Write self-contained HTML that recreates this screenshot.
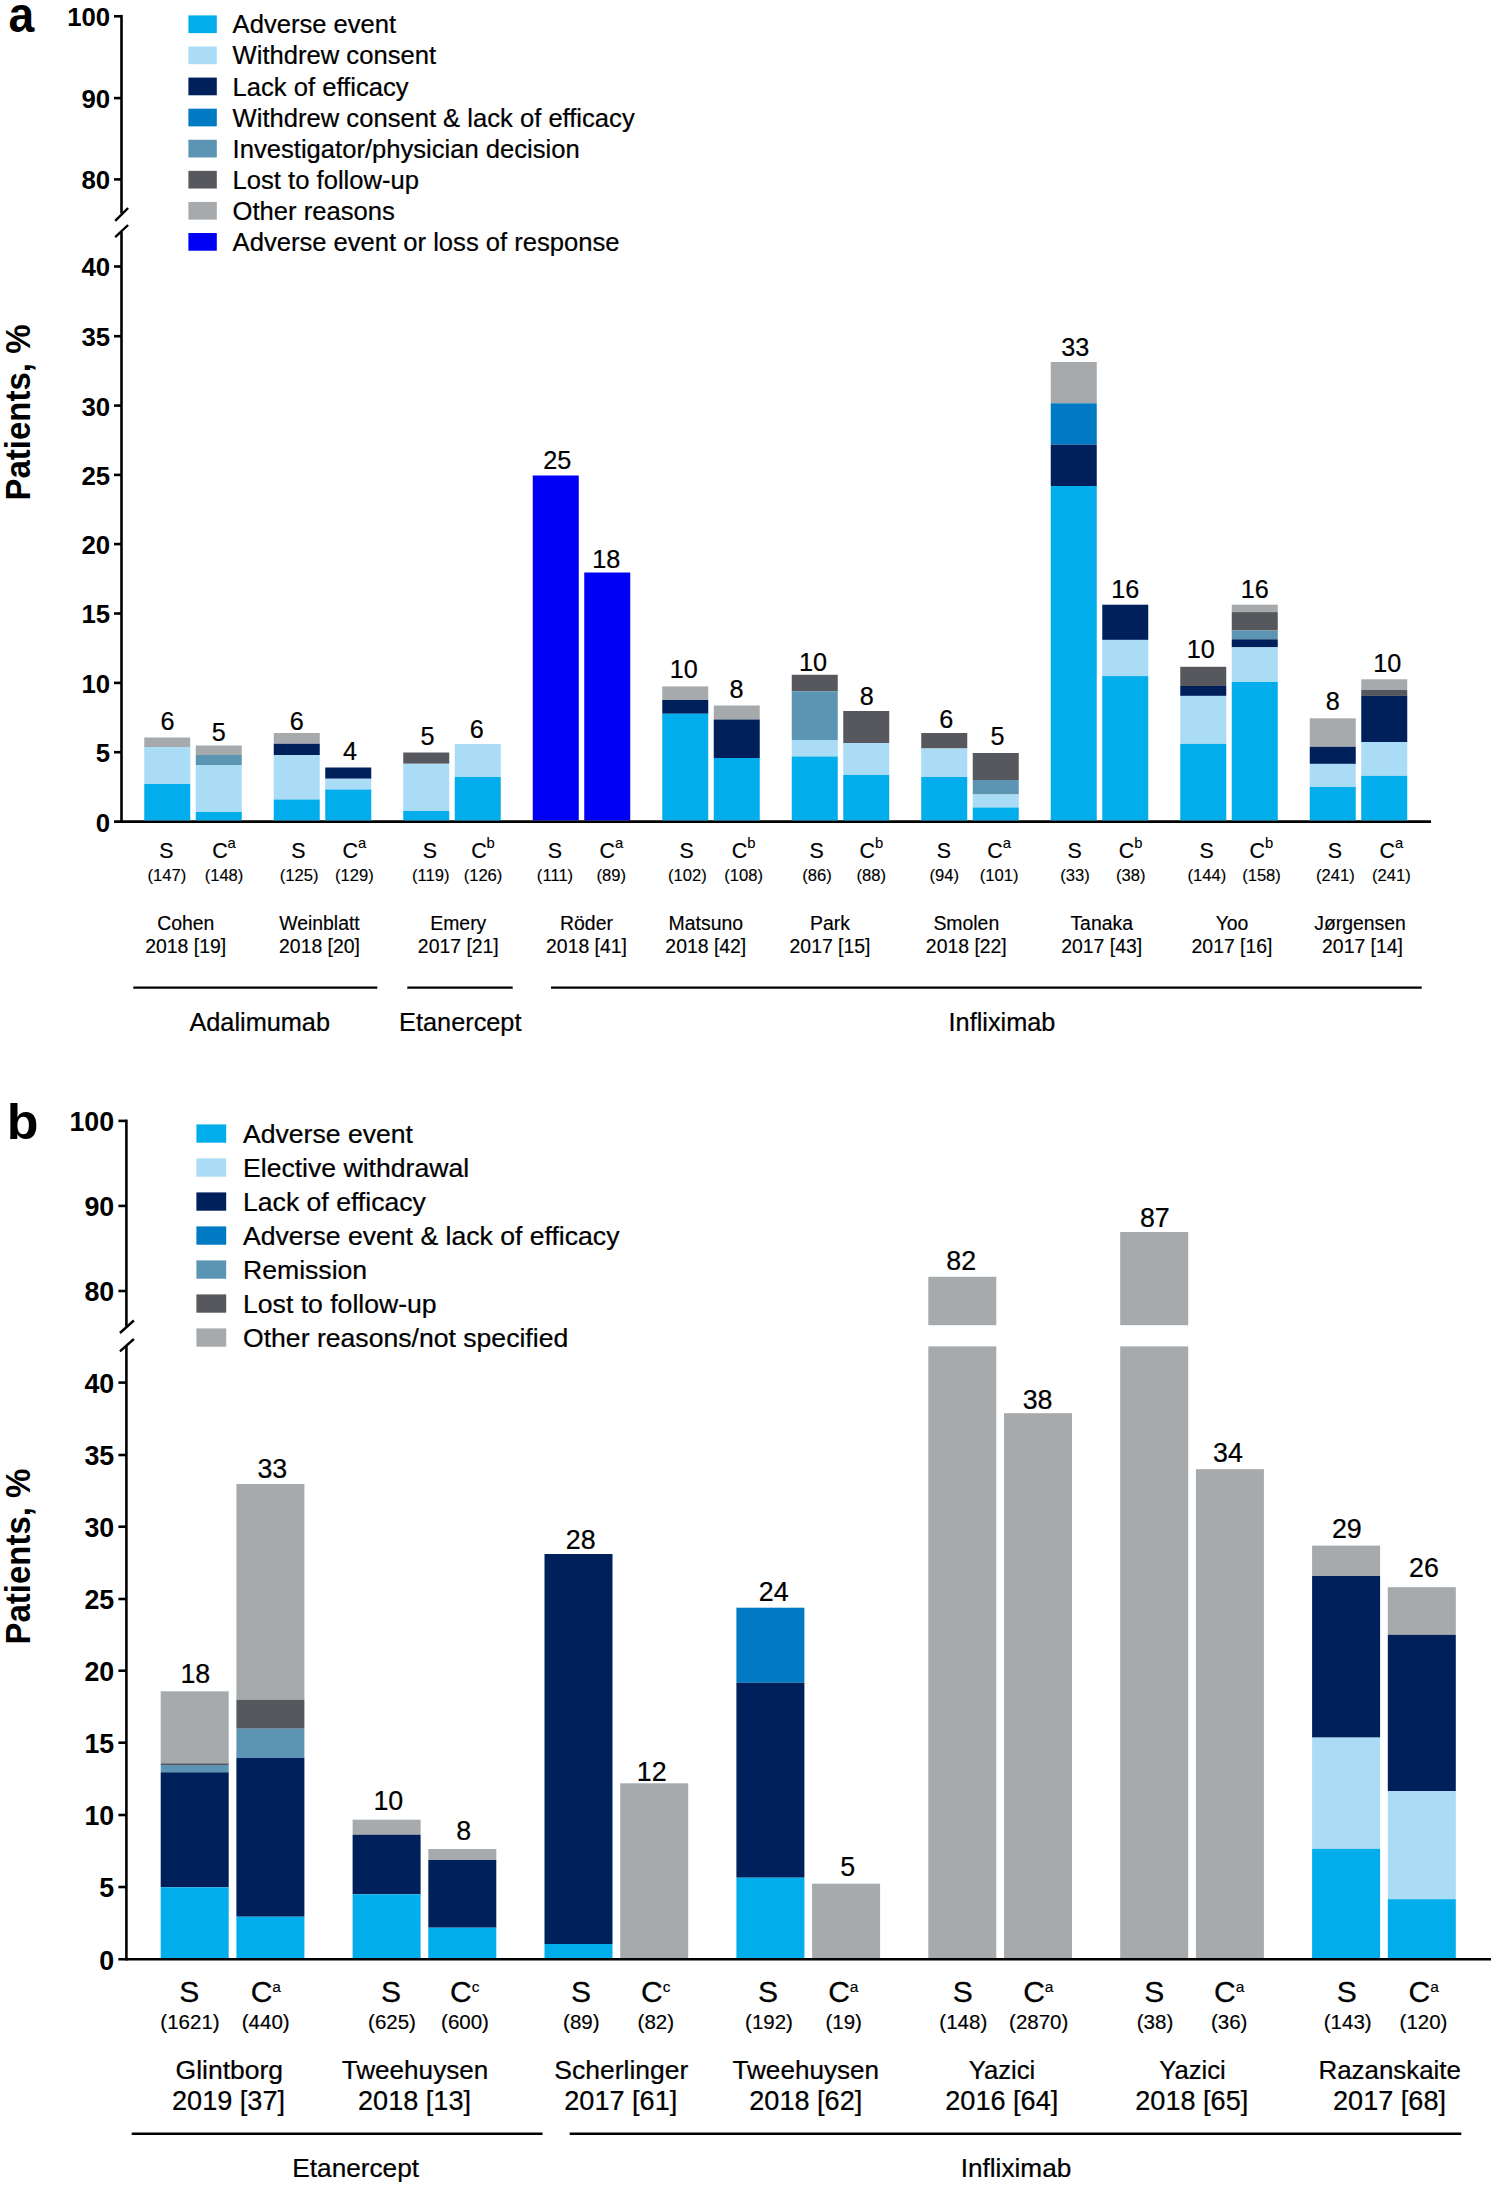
<!DOCTYPE html>
<html lang="en">
<head>
<meta charset="utf-8">
<title>Discontinuation reasons in switching studies</title>
<style>
html,body{margin:0;padding:0;background:#fff;}
body{width:1500px;height:2187px;overflow:hidden;}
svg{display:block;font-family:"Liberation Sans",Arial,Helvetica,sans-serif;fill:#000;}
svg text{fill:#000;}
</style>
</head>
<body>
<svg width="1500" height="2187" viewBox="0 0 1500 2187">
<rect x="0" y="0" width="1500" height="2187" fill="#fff"/>
<text transform="translate(8.4,32.2) scale(0.935,1)" font-size="49.5" font-weight="bold">a</text>
<line x1="121.5" y1="14.9" x2="121.5" y2="213.5" stroke="#000" stroke-width="2.6" stroke-linecap="butt"/>
<line x1="121.5" y1="231.4" x2="121.5" y2="822.9" stroke="#000" stroke-width="2.6" stroke-linecap="butt"/>
<line x1="115.2" y1="220.9" x2="128.1" y2="208" stroke="#000" stroke-width="2.4" stroke-linecap="butt"/>
<line x1="115.2" y1="237.2" x2="128.1" y2="225" stroke="#000" stroke-width="2.4" stroke-linecap="butt"/>
<line x1="114" y1="821.6" x2="1431" y2="821.6" stroke="#000" stroke-width="2.6" stroke-linecap="butt"/>
<line x1="114" y1="16.3" x2="121.5" y2="16.3" stroke="#000" stroke-width="2.6" stroke-linecap="butt"/>
<text x="110.2" y="26.2" font-size="25.8" text-anchor="end" font-weight="bold">100</text>
<line x1="114" y1="98.1" x2="121.5" y2="98.1" stroke="#000" stroke-width="2.6" stroke-linecap="butt"/>
<text x="110.2" y="108" font-size="25.8" text-anchor="end" font-weight="bold">90</text>
<line x1="114" y1="179.4" x2="121.5" y2="179.4" stroke="#000" stroke-width="2.6" stroke-linecap="butt"/>
<text x="110.2" y="189.3" font-size="25.8" text-anchor="end" font-weight="bold">80</text>
<line x1="114" y1="266.5" x2="121.5" y2="266.5" stroke="#000" stroke-width="2.6" stroke-linecap="butt"/>
<text x="110.2" y="276.4" font-size="25.8" text-anchor="end" font-weight="bold">40</text>
<line x1="114" y1="336.2" x2="121.5" y2="336.2" stroke="#000" stroke-width="2.6" stroke-linecap="butt"/>
<text x="110.2" y="346.1" font-size="25.8" text-anchor="end" font-weight="bold">35</text>
<line x1="114" y1="405.6" x2="121.5" y2="405.6" stroke="#000" stroke-width="2.6" stroke-linecap="butt"/>
<text x="110.2" y="415.5" font-size="25.8" text-anchor="end" font-weight="bold">30</text>
<line x1="114" y1="474.9" x2="121.5" y2="474.9" stroke="#000" stroke-width="2.6" stroke-linecap="butt"/>
<text x="110.2" y="484.8" font-size="25.8" text-anchor="end" font-weight="bold">25</text>
<line x1="114" y1="544.1" x2="121.5" y2="544.1" stroke="#000" stroke-width="2.6" stroke-linecap="butt"/>
<text x="110.2" y="554" font-size="25.8" text-anchor="end" font-weight="bold">20</text>
<line x1="114" y1="613.5" x2="121.5" y2="613.5" stroke="#000" stroke-width="2.6" stroke-linecap="butt"/>
<text x="110.2" y="623.4" font-size="25.8" text-anchor="end" font-weight="bold">15</text>
<line x1="114" y1="682.9" x2="121.5" y2="682.9" stroke="#000" stroke-width="2.6" stroke-linecap="butt"/>
<text x="110.2" y="692.8" font-size="25.8" text-anchor="end" font-weight="bold">10</text>
<line x1="114" y1="752.2" x2="121.5" y2="752.2" stroke="#000" stroke-width="2.6" stroke-linecap="butt"/>
<text x="110.2" y="762.1" font-size="25.8" text-anchor="end" font-weight="bold">5</text>
<text x="110.2" y="831.5" font-size="25.8" text-anchor="end" font-weight="bold">0</text>
<text transform="translate(30.2,412.5) rotate(-90) scale(1,1.08)" font-size="33" font-weight="bold" text-anchor="middle">Patients, %</text>
<rect x="188.4" y="15.4" width="28.4" height="17.7" fill="#02ADEC"/>
<text x="232.6" y="33.4" font-size="25.6" text-anchor="start" stroke="#000" stroke-width="0.23">Adverse event</text>
<rect x="188.4" y="46.49" width="28.4" height="17.7" fill="#AADCF6"/>
<text x="232.6" y="64.49" font-size="25.6" text-anchor="start" stroke="#000" stroke-width="0.23">Withdrew consent</text>
<rect x="188.4" y="77.58" width="28.4" height="17.7" fill="#00205C"/>
<text x="232.6" y="95.58" font-size="25.6" text-anchor="start" stroke="#000" stroke-width="0.23">Lack of efficacy</text>
<rect x="188.4" y="108.67" width="28.4" height="17.7" fill="#007AC2"/>
<text x="232.6" y="126.67" font-size="25.6" text-anchor="start" stroke="#000" stroke-width="0.23">Withdrew consent &amp; lack of efficacy</text>
<rect x="188.4" y="139.76" width="28.4" height="17.7" fill="#5C94B4"/>
<text x="232.6" y="157.76" font-size="25.6" text-anchor="start" stroke="#000" stroke-width="0.23">Investigator/physician decision</text>
<rect x="188.4" y="170.85" width="28.4" height="17.7" fill="#57585D"/>
<text x="232.6" y="188.85" font-size="25.6" text-anchor="start" stroke="#000" stroke-width="0.23">Lost to follow-up</text>
<rect x="188.4" y="201.94" width="28.4" height="17.7" fill="#A6AAAD"/>
<text x="232.6" y="219.94" font-size="25.6" text-anchor="start" stroke="#000" stroke-width="0.23">Other reasons</text>
<rect x="188.4" y="233.03" width="28.4" height="17.7" fill="#0000F6"/>
<text x="232.6" y="251.03" font-size="25.6" text-anchor="start" stroke="#000" stroke-width="0.23">Adverse event or loss of response</text>
<rect x="144.25" y="737.5" width="46" height="9.5" fill="#A6AAAD"/>
<rect x="144.25" y="747" width="46" height="37" fill="#AADCF6"/>
<rect x="144.25" y="784" width="46" height="36.4" fill="#02ADEC"/>
<rect x="195.75" y="745.5" width="46" height="9.5" fill="#A6AAAD"/>
<rect x="195.75" y="755" width="46" height="10" fill="#5C94B4"/>
<rect x="195.75" y="765" width="46" height="47" fill="#AADCF6"/>
<rect x="195.75" y="812" width="46" height="8.4" fill="#02ADEC"/>
<rect x="273.75" y="733" width="46" height="10.75" fill="#A6AAAD"/>
<rect x="273.75" y="743.75" width="46" height="11.25" fill="#00205C"/>
<rect x="273.75" y="755" width="46" height="44.5" fill="#AADCF6"/>
<rect x="273.75" y="799.5" width="46" height="20.9" fill="#02ADEC"/>
<rect x="325.25" y="767.5" width="46" height="11.25" fill="#00205C"/>
<rect x="325.25" y="778.75" width="46" height="10.75" fill="#AADCF6"/>
<rect x="325.25" y="789.5" width="46" height="30.9" fill="#02ADEC"/>
<rect x="403.25" y="752.5" width="46" height="11.25" fill="#57585D"/>
<rect x="403.25" y="763.75" width="46" height="47.25" fill="#AADCF6"/>
<rect x="403.25" y="811" width="46" height="9.4" fill="#02ADEC"/>
<rect x="454.75" y="744" width="46" height="33" fill="#AADCF6"/>
<rect x="454.75" y="777" width="46" height="43.4" fill="#02ADEC"/>
<rect x="532.75" y="475.5" width="46" height="344.9" fill="#0000F6"/>
<rect x="584.25" y="572.5" width="46" height="247.9" fill="#0000F6"/>
<rect x="662.25" y="686.4" width="46" height="13.6" fill="#A6AAAD"/>
<rect x="662.25" y="700" width="46" height="13.75" fill="#00205C"/>
<rect x="662.25" y="713.75" width="46" height="106.65" fill="#02ADEC"/>
<rect x="713.75" y="705.5" width="46" height="14" fill="#A6AAAD"/>
<rect x="713.75" y="719.5" width="46" height="38.5" fill="#00205C"/>
<rect x="713.75" y="758" width="46" height="62.4" fill="#02ADEC"/>
<rect x="791.75" y="674.75" width="46" height="16.5" fill="#57585D"/>
<rect x="791.75" y="691.25" width="46" height="48.75" fill="#5C94B4"/>
<rect x="791.75" y="740" width="46" height="16.5" fill="#AADCF6"/>
<rect x="791.75" y="756.5" width="46" height="63.9" fill="#02ADEC"/>
<rect x="843.25" y="711" width="46" height="32" fill="#57585D"/>
<rect x="843.25" y="743" width="46" height="32" fill="#AADCF6"/>
<rect x="843.25" y="775" width="46" height="45.4" fill="#02ADEC"/>
<rect x="921.25" y="733" width="46" height="15.5" fill="#57585D"/>
<rect x="921.25" y="748.5" width="46" height="28.5" fill="#AADCF6"/>
<rect x="921.25" y="777" width="46" height="43.4" fill="#02ADEC"/>
<rect x="972.75" y="753" width="46" height="27" fill="#57585D"/>
<rect x="972.75" y="780" width="46" height="14.5" fill="#5C94B4"/>
<rect x="972.75" y="794.5" width="46" height="13" fill="#AADCF6"/>
<rect x="972.75" y="807.5" width="46" height="12.9" fill="#02ADEC"/>
<rect x="1050.75" y="362" width="46" height="41.3" fill="#A6AAAD"/>
<rect x="1050.75" y="403.3" width="46" height="41.4" fill="#007AC2"/>
<rect x="1050.75" y="444.7" width="46" height="41.3" fill="#00205C"/>
<rect x="1050.75" y="486" width="46" height="334.4" fill="#02ADEC"/>
<rect x="1102.25" y="604.7" width="46" height="35.2" fill="#00205C"/>
<rect x="1102.25" y="639.9" width="46" height="36.2" fill="#AADCF6"/>
<rect x="1102.25" y="676.1" width="46" height="144.3" fill="#02ADEC"/>
<rect x="1180.25" y="666.8" width="46" height="19.2" fill="#57585D"/>
<rect x="1180.25" y="686" width="46" height="9.9" fill="#00205C"/>
<rect x="1180.25" y="695.9" width="46" height="48" fill="#AADCF6"/>
<rect x="1180.25" y="743.9" width="46" height="76.5" fill="#02ADEC"/>
<rect x="1231.75" y="604.7" width="46" height="7.4" fill="#A6AAAD"/>
<rect x="1231.75" y="612.1" width="46" height="18.4" fill="#57585D"/>
<rect x="1231.75" y="630.5" width="46" height="8.8" fill="#5C94B4"/>
<rect x="1231.75" y="639.3" width="46" height="8" fill="#00205C"/>
<rect x="1231.75" y="647.3" width="46" height="34.7" fill="#AADCF6"/>
<rect x="1231.75" y="682" width="46" height="138.4" fill="#02ADEC"/>
<rect x="1309.75" y="718.3" width="46" height="28.5" fill="#A6AAAD"/>
<rect x="1309.75" y="746.8" width="46" height="17.1" fill="#00205C"/>
<rect x="1309.75" y="763.9" width="46" height="23.1" fill="#AADCF6"/>
<rect x="1309.75" y="787" width="46" height="33.4" fill="#02ADEC"/>
<rect x="1361.25" y="679.3" width="46" height="10.7" fill="#A6AAAD"/>
<rect x="1361.25" y="690" width="46" height="5.9" fill="#57585D"/>
<rect x="1361.25" y="695.9" width="46" height="46.1" fill="#00205C"/>
<rect x="1361.25" y="742" width="46" height="33.9" fill="#AADCF6"/>
<rect x="1361.25" y="775.9" width="46" height="44.5" fill="#02ADEC"/>
<text x="167.5" y="730" font-size="25.2" text-anchor="middle" stroke="#000" stroke-width="0.23">6</text>
<text x="218.75" y="741.25" font-size="25.2" text-anchor="middle" stroke="#000" stroke-width="0.23">5</text>
<text x="296.75" y="730" font-size="25.2" text-anchor="middle" stroke="#000" stroke-width="0.23">6</text>
<text x="350" y="759.5" font-size="25.2" text-anchor="middle" stroke="#000" stroke-width="0.23">4</text>
<text x="427.5" y="745" font-size="25.2" text-anchor="middle" stroke="#000" stroke-width="0.23">5</text>
<text x="476.75" y="737.5" font-size="25.2" text-anchor="middle" stroke="#000" stroke-width="0.23">6</text>
<text x="557.3" y="468.5" font-size="25.2" text-anchor="middle" stroke="#000" stroke-width="0.23">25</text>
<text x="606.3" y="568.3" font-size="25.2" text-anchor="middle" stroke="#000" stroke-width="0.23">18</text>
<text x="683.8" y="678.4" font-size="25.2" text-anchor="middle" stroke="#000" stroke-width="0.23">10</text>
<text x="736.5" y="698" font-size="25.2" text-anchor="middle" stroke="#000" stroke-width="0.23">8</text>
<text x="813" y="670.5" font-size="25.2" text-anchor="middle" stroke="#000" stroke-width="0.23">10</text>
<text x="866.75" y="704.5" font-size="25.2" text-anchor="middle" stroke="#000" stroke-width="0.23">8</text>
<text x="946.25" y="727.5" font-size="25.2" text-anchor="middle" stroke="#000" stroke-width="0.23">6</text>
<text x="997.5" y="745" font-size="25.2" text-anchor="middle" stroke="#000" stroke-width="0.23">5</text>
<text x="1075.3" y="356.1" font-size="25.2" text-anchor="middle" stroke="#000" stroke-width="0.23">33</text>
<text x="1125.2" y="597.5" font-size="25.2" text-anchor="middle" stroke="#000" stroke-width="0.23">16</text>
<text x="1200.7" y="657.5" font-size="25.2" text-anchor="middle" stroke="#000" stroke-width="0.23">10</text>
<text x="1254.8" y="597.5" font-size="25.2" text-anchor="middle" stroke="#000" stroke-width="0.23">16</text>
<text x="1332.7" y="710" font-size="25.2" text-anchor="middle" stroke="#000" stroke-width="0.23">8</text>
<text x="1387.3" y="672.1" font-size="25.2" text-anchor="middle" stroke="#000" stroke-width="0.23">10</text>
<text x="166.3" y="857.6" font-size="21.4" text-anchor="middle" stroke="#000" stroke-width="0.19">S</text>
<text x="166.8" y="881.3" font-size="16.6" text-anchor="middle" stroke="#000" stroke-width="0.15">(147)</text>
<text x="224" y="857.6" font-size="21.4" text-anchor="middle" stroke="#000" stroke-width="0.19">C<tspan font-size="14.8" dy="-10" stroke-width="0.13">a</tspan></text>
<text x="224" y="881.3" font-size="16.6" text-anchor="middle" stroke="#000" stroke-width="0.15">(148)</text>
<text x="298.5" y="857.6" font-size="21.4" text-anchor="middle" stroke="#000" stroke-width="0.19">S</text>
<text x="299.2" y="881.3" font-size="16.6" text-anchor="middle" stroke="#000" stroke-width="0.15">(125)</text>
<text x="354.3" y="857.6" font-size="21.4" text-anchor="middle" stroke="#000" stroke-width="0.19">C<tspan font-size="14.8" dy="-10" stroke-width="0.13">a</tspan></text>
<text x="354.3" y="881.3" font-size="16.6" text-anchor="middle" stroke="#000" stroke-width="0.15">(129)</text>
<text x="430" y="857.6" font-size="21.4" text-anchor="middle" stroke="#000" stroke-width="0.19">S</text>
<text x="430.7" y="881.3" font-size="16.6" text-anchor="middle" stroke="#000" stroke-width="0.15">(119)</text>
<text x="483" y="857.6" font-size="21.4" text-anchor="middle" stroke="#000" stroke-width="0.19">C<tspan font-size="14.8" dy="-10" stroke-width="0.13">b</tspan></text>
<text x="483" y="881.3" font-size="16.6" text-anchor="middle" stroke="#000" stroke-width="0.15">(126)</text>
<text x="555" y="857.6" font-size="21.4" text-anchor="middle" stroke="#000" stroke-width="0.19">S</text>
<text x="555" y="881.3" font-size="16.6" text-anchor="middle" stroke="#000" stroke-width="0.15">(111)</text>
<text x="611.3" y="857.6" font-size="21.4" text-anchor="middle" stroke="#000" stroke-width="0.19">C<tspan font-size="14.8" dy="-10" stroke-width="0.13">a</tspan></text>
<text x="611.3" y="881.3" font-size="16.6" text-anchor="middle" stroke="#000" stroke-width="0.15">(89)</text>
<text x="686.7" y="857.6" font-size="21.4" text-anchor="middle" stroke="#000" stroke-width="0.19">S</text>
<text x="687.3" y="881.3" font-size="16.6" text-anchor="middle" stroke="#000" stroke-width="0.15">(102)</text>
<text x="743.7" y="857.6" font-size="21.4" text-anchor="middle" stroke="#000" stroke-width="0.19">C<tspan font-size="14.8" dy="-10" stroke-width="0.13">b</tspan></text>
<text x="743.7" y="881.3" font-size="16.6" text-anchor="middle" stroke="#000" stroke-width="0.15">(108)</text>
<text x="816.7" y="857.6" font-size="21.4" text-anchor="middle" stroke="#000" stroke-width="0.19">S</text>
<text x="817" y="881.3" font-size="16.6" text-anchor="middle" stroke="#000" stroke-width="0.15">(86)</text>
<text x="871.3" y="857.6" font-size="21.4" text-anchor="middle" stroke="#000" stroke-width="0.19">C<tspan font-size="14.8" dy="-10" stroke-width="0.13">b</tspan></text>
<text x="871.3" y="881.3" font-size="16.6" text-anchor="middle" stroke="#000" stroke-width="0.15">(88)</text>
<text x="944" y="857.6" font-size="21.4" text-anchor="middle" stroke="#000" stroke-width="0.19">S</text>
<text x="944.3" y="881.3" font-size="16.6" text-anchor="middle" stroke="#000" stroke-width="0.15">(94)</text>
<text x="999.2" y="857.6" font-size="21.4" text-anchor="middle" stroke="#000" stroke-width="0.19">C<tspan font-size="14.8" dy="-10" stroke-width="0.13">a</tspan></text>
<text x="999.2" y="881.3" font-size="16.6" text-anchor="middle" stroke="#000" stroke-width="0.15">(101)</text>
<text x="1074.7" y="857.6" font-size="21.4" text-anchor="middle" stroke="#000" stroke-width="0.19">S</text>
<text x="1075" y="881.3" font-size="16.6" text-anchor="middle" stroke="#000" stroke-width="0.15">(33)</text>
<text x="1130.6" y="857.6" font-size="21.4" text-anchor="middle" stroke="#000" stroke-width="0.19">C<tspan font-size="14.8" dy="-10" stroke-width="0.13">b</tspan></text>
<text x="1130.8" y="881.3" font-size="16.6" text-anchor="middle" stroke="#000" stroke-width="0.15">(38)</text>
<text x="1206.7" y="857.6" font-size="21.4" text-anchor="middle" stroke="#000" stroke-width="0.19">S</text>
<text x="1206.8" y="881.3" font-size="16.6" text-anchor="middle" stroke="#000" stroke-width="0.15">(144)</text>
<text x="1261.3" y="857.6" font-size="21.4" text-anchor="middle" stroke="#000" stroke-width="0.19">C<tspan font-size="14.8" dy="-10" stroke-width="0.13">b</tspan></text>
<text x="1261.5" y="881.3" font-size="16.6" text-anchor="middle" stroke="#000" stroke-width="0.15">(158)</text>
<text x="1335" y="857.6" font-size="21.4" text-anchor="middle" stroke="#000" stroke-width="0.19">S</text>
<text x="1335.3" y="881.3" font-size="16.6" text-anchor="middle" stroke="#000" stroke-width="0.15">(241)</text>
<text x="1391.3" y="857.6" font-size="21.4" text-anchor="middle" stroke="#000" stroke-width="0.19">C<tspan font-size="14.8" dy="-10" stroke-width="0.13">a</tspan></text>
<text x="1391.3" y="881.3" font-size="16.6" text-anchor="middle" stroke="#000" stroke-width="0.15">(241)</text>
<text x="185.7" y="930" font-size="19.4" text-anchor="middle" stroke="#000" stroke-width="0.17">Cohen</text>
<text x="185.7" y="953.3" font-size="19.4" text-anchor="middle" stroke="#000" stroke-width="0.17">2018 [19]</text>
<text x="319.5" y="930" font-size="19.4" text-anchor="middle" stroke="#000" stroke-width="0.17">Weinblatt</text>
<text x="319.5" y="953.3" font-size="19.4" text-anchor="middle" stroke="#000" stroke-width="0.17">2018 [20]</text>
<text x="458.3" y="930" font-size="19.4" text-anchor="middle" stroke="#000" stroke-width="0.17">Emery</text>
<text x="458.3" y="953.3" font-size="19.4" text-anchor="middle" stroke="#000" stroke-width="0.17">2017 [21]</text>
<text x="586.5" y="930" font-size="19.4" text-anchor="middle" stroke="#000" stroke-width="0.17">Röder</text>
<text x="586.5" y="953.3" font-size="19.4" text-anchor="middle" stroke="#000" stroke-width="0.17">2018 [41]</text>
<text x="705.8" y="930" font-size="19.4" text-anchor="middle" stroke="#000" stroke-width="0.17">Matsuno</text>
<text x="705.8" y="953.3" font-size="19.4" text-anchor="middle" stroke="#000" stroke-width="0.17">2018 [42]</text>
<text x="830" y="930" font-size="19.4" text-anchor="middle" stroke="#000" stroke-width="0.17">Park</text>
<text x="830" y="953.3" font-size="19.4" text-anchor="middle" stroke="#000" stroke-width="0.17">2017 [15]</text>
<text x="966.3" y="930" font-size="19.4" text-anchor="middle" stroke="#000" stroke-width="0.17">Smolen</text>
<text x="966.3" y="953.3" font-size="19.4" text-anchor="middle" stroke="#000" stroke-width="0.17">2018 [22]</text>
<text x="1101.7" y="930" font-size="19.4" text-anchor="middle" stroke="#000" stroke-width="0.17">Tanaka</text>
<text x="1101.7" y="953.3" font-size="19.4" text-anchor="middle" stroke="#000" stroke-width="0.17">2017 [43]</text>
<text x="1232" y="930" font-size="19.4" text-anchor="middle" stroke="#000" stroke-width="0.17">Yoo</text>
<text x="1232" y="953.3" font-size="19.4" text-anchor="middle" stroke="#000" stroke-width="0.17">2017 [16]</text>
<text x="1360" y="930" font-size="19.4" text-anchor="middle" stroke="#000" stroke-width="0.17">Jørgensen</text>
<text x="1362.5" y="953.3" font-size="19.4" text-anchor="middle" stroke="#000" stroke-width="0.17">2017 [14]</text>
<line x1="133.3" y1="987.7" x2="377.3" y2="987.7" stroke="#000" stroke-width="2.2" stroke-linecap="butt"/>
<line x1="407.3" y1="987.7" x2="512.7" y2="987.7" stroke="#000" stroke-width="2.2" stroke-linecap="butt"/>
<line x1="551" y1="987.7" x2="1421.7" y2="987.7" stroke="#000" stroke-width="2.2" stroke-linecap="butt"/>
<text x="259.7" y="1030.7" font-size="25.3" text-anchor="middle" stroke="#000" stroke-width="0.23">Adalimumab</text>
<text x="460.3" y="1030.7" font-size="25.3" text-anchor="middle" stroke="#000" stroke-width="0.23">Etanercept</text>
<text x="1002" y="1030.7" font-size="25.3" text-anchor="middle" stroke="#000" stroke-width="0.23">Infliximab</text>
<text transform="translate(6.7,1138.6) scale(1.03,1)" font-size="50.4" font-weight="bold">b</text>
<line x1="126.4" y1="1119.6" x2="126.4" y2="1326.5" stroke="#000" stroke-width="2.6" stroke-linecap="butt"/>
<line x1="126.4" y1="1345" x2="126.4" y2="1960.6" stroke="#000" stroke-width="2.6" stroke-linecap="butt"/>
<line x1="119.9" y1="1333" x2="133.9" y2="1320.5" stroke="#000" stroke-width="2.4" stroke-linecap="butt"/>
<line x1="119.9" y1="1351.4" x2="133.9" y2="1339" stroke="#000" stroke-width="2.4" stroke-linecap="butt"/>
<line x1="118.4" y1="1959.3" x2="1491" y2="1959.3" stroke="#000" stroke-width="2.6" stroke-linecap="butt"/>
<line x1="118.4" y1="1120.9" x2="126.4" y2="1120.9" stroke="#000" stroke-width="2.6" stroke-linecap="butt"/>
<text x="114.2" y="1131.1" font-size="26.8" text-anchor="end" font-weight="bold">100</text>
<line x1="118.4" y1="1205.9" x2="126.4" y2="1205.9" stroke="#000" stroke-width="2.6" stroke-linecap="butt"/>
<text x="114.2" y="1216.1" font-size="26.8" text-anchor="end" font-weight="bold">90</text>
<line x1="118.4" y1="1291" x2="126.4" y2="1291" stroke="#000" stroke-width="2.6" stroke-linecap="butt"/>
<text x="114.2" y="1301.2" font-size="26.8" text-anchor="end" font-weight="bold">80</text>
<line x1="118.4" y1="1382.6" x2="126.4" y2="1382.6" stroke="#000" stroke-width="2.6" stroke-linecap="butt"/>
<text x="114.2" y="1392.8" font-size="26.8" text-anchor="end" font-weight="bold">40</text>
<line x1="118.4" y1="1455" x2="126.4" y2="1455" stroke="#000" stroke-width="2.6" stroke-linecap="butt"/>
<text x="114.2" y="1465.2" font-size="26.8" text-anchor="end" font-weight="bold">35</text>
<line x1="118.4" y1="1526.7" x2="126.4" y2="1526.7" stroke="#000" stroke-width="2.6" stroke-linecap="butt"/>
<text x="114.2" y="1536.9" font-size="26.8" text-anchor="end" font-weight="bold">30</text>
<line x1="118.4" y1="1599" x2="126.4" y2="1599" stroke="#000" stroke-width="2.6" stroke-linecap="butt"/>
<text x="114.2" y="1609.2" font-size="26.8" text-anchor="end" font-weight="bold">25</text>
<line x1="118.4" y1="1670.7" x2="126.4" y2="1670.7" stroke="#000" stroke-width="2.6" stroke-linecap="butt"/>
<text x="114.2" y="1680.9" font-size="26.8" text-anchor="end" font-weight="bold">20</text>
<line x1="118.4" y1="1742.7" x2="126.4" y2="1742.7" stroke="#000" stroke-width="2.6" stroke-linecap="butt"/>
<text x="114.2" y="1752.9" font-size="26.8" text-anchor="end" font-weight="bold">15</text>
<line x1="118.4" y1="1815" x2="126.4" y2="1815" stroke="#000" stroke-width="2.6" stroke-linecap="butt"/>
<text x="114.2" y="1825.2" font-size="26.8" text-anchor="end" font-weight="bold">10</text>
<line x1="118.4" y1="1887" x2="126.4" y2="1887" stroke="#000" stroke-width="2.6" stroke-linecap="butt"/>
<text x="114.2" y="1897.2" font-size="26.8" text-anchor="end" font-weight="bold">5</text>
<text x="114.2" y="1969.5" font-size="26.8" text-anchor="end" font-weight="bold">0</text>
<text transform="translate(29.8,1556.6) rotate(-90) scale(1,1.08)" font-size="33" font-weight="bold" text-anchor="middle">Patients, %</text>
<rect x="196.4" y="1124.4" width="29.8" height="18.3" fill="#02ADEC"/>
<text x="243" y="1143" font-size="26.6" text-anchor="start" stroke="#000" stroke-width="0.24">Adverse event</text>
<rect x="196.4" y="1158.4" width="29.8" height="18.3" fill="#AADCF6"/>
<text x="243" y="1177" font-size="26.6" text-anchor="start" stroke="#000" stroke-width="0.24">Elective withdrawal</text>
<rect x="196.4" y="1192.4" width="29.8" height="18.3" fill="#00205C"/>
<text x="243" y="1211" font-size="26.6" text-anchor="start" stroke="#000" stroke-width="0.24">Lack of efficacy</text>
<rect x="196.4" y="1226.4" width="29.8" height="18.3" fill="#007AC2"/>
<text x="243" y="1245" font-size="26.6" text-anchor="start" stroke="#000" stroke-width="0.24">Adverse event &amp; lack of efficacy</text>
<rect x="196.4" y="1260.4" width="29.8" height="18.3" fill="#5C94B4"/>
<text x="243" y="1279" font-size="26.6" text-anchor="start" stroke="#000" stroke-width="0.24">Remission</text>
<rect x="196.4" y="1294.4" width="29.8" height="18.3" fill="#57585D"/>
<text x="243" y="1313" font-size="26.6" text-anchor="start" stroke="#000" stroke-width="0.24">Lost to follow-up</text>
<rect x="196.4" y="1328.4" width="29.8" height="18.3" fill="#A6AAAD"/>
<text x="243" y="1347" font-size="26.6" text-anchor="start" stroke="#000" stroke-width="0.24">Other reasons/not specified</text>
<rect x="160.7" y="1691.3" width="68" height="72" fill="#A6AAAD"/>
<rect x="160.7" y="1763.3" width="68" height="1.7" fill="#57585D"/>
<rect x="160.7" y="1765" width="68" height="7.3" fill="#5C94B4"/>
<rect x="160.7" y="1772.3" width="68" height="115" fill="#00205C"/>
<rect x="160.7" y="1887.3" width="68" height="70.7" fill="#02ADEC"/>
<rect x="236.4" y="1484" width="68" height="215.7" fill="#A6AAAD"/>
<rect x="236.4" y="1699.7" width="68" height="29" fill="#57585D"/>
<rect x="236.4" y="1728.7" width="68" height="29.3" fill="#5C94B4"/>
<rect x="236.4" y="1758" width="68" height="158.7" fill="#00205C"/>
<rect x="236.4" y="1916.7" width="68" height="41.3" fill="#02ADEC"/>
<rect x="352.6" y="1819.7" width="68" height="15" fill="#A6AAAD"/>
<rect x="352.6" y="1834.7" width="68" height="59.6" fill="#00205C"/>
<rect x="352.6" y="1894.3" width="68" height="63.7" fill="#02ADEC"/>
<rect x="428.3" y="1849" width="68" height="11" fill="#A6AAAD"/>
<rect x="428.3" y="1860" width="68" height="67.7" fill="#00205C"/>
<rect x="428.3" y="1927.7" width="68" height="30.3" fill="#02ADEC"/>
<rect x="544.5" y="1554" width="68" height="390" fill="#00205C"/>
<rect x="544.5" y="1944" width="68" height="14" fill="#02ADEC"/>
<rect x="620.2" y="1783.3" width="68" height="174.7" fill="#A6AAAD"/>
<rect x="736.4" y="1607.7" width="68" height="75" fill="#007AC2"/>
<rect x="736.4" y="1682.7" width="68" height="195" fill="#00205C"/>
<rect x="736.4" y="1877.7" width="68" height="80.3" fill="#02ADEC"/>
<rect x="812.1" y="1883.7" width="68" height="74.3" fill="#A6AAAD"/>
<rect x="928.3" y="1346.4" width="68" height="611.6" fill="#A6AAAD"/>
<rect x="1004" y="1413.2" width="68" height="544.8" fill="#A6AAAD"/>
<rect x="1120.2" y="1346.4" width="68" height="611.6" fill="#A6AAAD"/>
<rect x="1195.9" y="1469.2" width="68" height="488.8" fill="#A6AAAD"/>
<rect x="1312.1" y="1545.6" width="68" height="30.4" fill="#A6AAAD"/>
<rect x="1312.1" y="1576" width="68" height="161.6" fill="#00205C"/>
<rect x="1312.1" y="1737.6" width="68" height="111.2" fill="#AADCF6"/>
<rect x="1312.1" y="1848.8" width="68" height="109.2" fill="#02ADEC"/>
<rect x="1387.8" y="1587.2" width="68" height="47.6" fill="#A6AAAD"/>
<rect x="1387.8" y="1634.8" width="68" height="156.4" fill="#00205C"/>
<rect x="1387.8" y="1791.2" width="68" height="108" fill="#AADCF6"/>
<rect x="1387.8" y="1899.2" width="68" height="58.8" fill="#02ADEC"/>
<rect x="928.3" y="1276.8" width="68" height="48.4" fill="#A6AAAD"/>
<rect x="1120.2" y="1232" width="68" height="93.2" fill="#A6AAAD"/>
<text x="195.3" y="1683.2" font-size="26.8" text-anchor="middle" stroke="#000" stroke-width="0.24">18</text>
<text x="272.3" y="1477.8" font-size="26.8" text-anchor="middle" stroke="#000" stroke-width="0.24">33</text>
<text x="388.3" y="1809.5" font-size="26.8" text-anchor="middle" stroke="#000" stroke-width="0.24">10</text>
<text x="463.7" y="1839.8" font-size="26.8" text-anchor="middle" stroke="#000" stroke-width="0.24">8</text>
<text x="580.7" y="1548.8" font-size="26.8" text-anchor="middle" stroke="#000" stroke-width="0.24">28</text>
<text x="651.7" y="1780.5" font-size="26.8" text-anchor="middle" stroke="#000" stroke-width="0.24">12</text>
<text x="773.7" y="1600.5" font-size="26.8" text-anchor="middle" stroke="#000" stroke-width="0.24">24</text>
<text x="847.7" y="1876.2" font-size="26.8" text-anchor="middle" stroke="#000" stroke-width="0.24">5</text>
<text x="961.2" y="1269.7" font-size="26.8" text-anchor="middle" stroke="#000" stroke-width="0.24">82</text>
<text x="1037.6" y="1408.5" font-size="26.8" text-anchor="middle" stroke="#000" stroke-width="0.24">38</text>
<text x="1154.8" y="1227.3" font-size="26.8" text-anchor="middle" stroke="#000" stroke-width="0.24">87</text>
<text x="1228" y="1461.7" font-size="26.8" text-anchor="middle" stroke="#000" stroke-width="0.24">34</text>
<text x="1346.8" y="1537.7" font-size="26.8" text-anchor="middle" stroke="#000" stroke-width="0.24">29</text>
<text x="1424" y="1577.3" font-size="26.8" text-anchor="middle" stroke="#000" stroke-width="0.24">26</text>
<text x="189.3" y="2002.4" font-size="30" text-anchor="middle" stroke="#000" stroke-width="0.27">S</text>
<text x="190" y="2029.3" font-size="20.5" text-anchor="middle" stroke="#000" stroke-width="0.18">(1621)</text>
<text x="265.8" y="2002.4" font-size="30" text-anchor="middle" stroke="#000" stroke-width="0.27">C<tspan font-size="15.5" dy="-10" stroke-width="0.14">a</tspan></text>
<text x="265.7" y="2029.3" font-size="20.5" text-anchor="middle" stroke="#000" stroke-width="0.18">(440)</text>
<text x="391" y="2002.4" font-size="30" text-anchor="middle" stroke="#000" stroke-width="0.27">S</text>
<text x="392" y="2029.3" font-size="20.5" text-anchor="middle" stroke="#000" stroke-width="0.18">(625)</text>
<text x="464.7" y="2002.4" font-size="30" text-anchor="middle" stroke="#000" stroke-width="0.27">C<tspan font-size="15.5" dy="-10" stroke-width="0.14">c</tspan></text>
<text x="465" y="2029.3" font-size="20.5" text-anchor="middle" stroke="#000" stroke-width="0.18">(600)</text>
<text x="581" y="2002.4" font-size="30" text-anchor="middle" stroke="#000" stroke-width="0.27">S</text>
<text x="581.3" y="2029.3" font-size="20.5" text-anchor="middle" stroke="#000" stroke-width="0.18">(89)</text>
<text x="655.7" y="2002.4" font-size="30" text-anchor="middle" stroke="#000" stroke-width="0.27">C<tspan font-size="15.5" dy="-10" stroke-width="0.14">c</tspan></text>
<text x="655.8" y="2029.3" font-size="20.5" text-anchor="middle" stroke="#000" stroke-width="0.18">(82)</text>
<text x="768" y="2002.4" font-size="30" text-anchor="middle" stroke="#000" stroke-width="0.27">S</text>
<text x="769" y="2029.3" font-size="20.5" text-anchor="middle" stroke="#000" stroke-width="0.18">(192)</text>
<text x="843.3" y="2002.4" font-size="30" text-anchor="middle" stroke="#000" stroke-width="0.27">C<tspan font-size="15.5" dy="-10" stroke-width="0.14">a</tspan></text>
<text x="843.7" y="2029.3" font-size="20.5" text-anchor="middle" stroke="#000" stroke-width="0.18">(19)</text>
<text x="962.7" y="2002.4" font-size="30" text-anchor="middle" stroke="#000" stroke-width="0.27">S</text>
<text x="963.3" y="2029.3" font-size="20.5" text-anchor="middle" stroke="#000" stroke-width="0.18">(148)</text>
<text x="1038.3" y="2002.4" font-size="30" text-anchor="middle" stroke="#000" stroke-width="0.27">C<tspan font-size="15.5" dy="-10" stroke-width="0.14">a</tspan></text>
<text x="1038.7" y="2029.3" font-size="20.5" text-anchor="middle" stroke="#000" stroke-width="0.18">(2870)</text>
<text x="1154.3" y="2002.4" font-size="30" text-anchor="middle" stroke="#000" stroke-width="0.27">S</text>
<text x="1155" y="2029.3" font-size="20.5" text-anchor="middle" stroke="#000" stroke-width="0.18">(38)</text>
<text x="1229.2" y="2002.4" font-size="30" text-anchor="middle" stroke="#000" stroke-width="0.27">C<tspan font-size="15.5" dy="-10" stroke-width="0.14">a</tspan></text>
<text x="1229.2" y="2029.3" font-size="20.5" text-anchor="middle" stroke="#000" stroke-width="0.18">(36)</text>
<text x="1346.7" y="2002.4" font-size="30" text-anchor="middle" stroke="#000" stroke-width="0.27">S</text>
<text x="1347.7" y="2029.3" font-size="20.5" text-anchor="middle" stroke="#000" stroke-width="0.18">(143)</text>
<text x="1423.7" y="2002.4" font-size="30" text-anchor="middle" stroke="#000" stroke-width="0.27">C<tspan font-size="15.5" dy="-10" stroke-width="0.14">a</tspan></text>
<text x="1423.5" y="2029.3" font-size="20.5" text-anchor="middle" stroke="#000" stroke-width="0.18">(120)</text>
<text x="229.3" y="2079.3" font-size="26.5" text-anchor="middle" stroke="#000" stroke-width="0.24">Glintborg</text>
<text x="228.5" y="2109.9" font-size="27.1" text-anchor="middle" stroke="#000" stroke-width="0.24">2019 [37]</text>
<text x="415" y="2079.3" font-size="26.1" text-anchor="middle" stroke="#000" stroke-width="0.23">Tweehuysen</text>
<text x="414.5" y="2109.9" font-size="27.1" text-anchor="middle" stroke="#000" stroke-width="0.24">2018 [13]</text>
<text x="621.3" y="2079.3" font-size="26.5" text-anchor="middle" stroke="#000" stroke-width="0.24">Scherlinger</text>
<text x="620.8" y="2109.9" font-size="27.1" text-anchor="middle" stroke="#000" stroke-width="0.24">2017 [61]</text>
<text x="805.8" y="2079.3" font-size="26.1" text-anchor="middle" stroke="#000" stroke-width="0.23">Tweehuysen</text>
<text x="805.8" y="2109.9" font-size="27.1" text-anchor="middle" stroke="#000" stroke-width="0.24">2018 [62]</text>
<text x="1002" y="2079.3" font-size="25.7" text-anchor="middle" stroke="#000" stroke-width="0.23">Yazici</text>
<text x="1001.8" y="2109.9" font-size="27.1" text-anchor="middle" stroke="#000" stroke-width="0.24">2016 [64]</text>
<text x="1192.5" y="2079.3" font-size="25.7" text-anchor="middle" stroke="#000" stroke-width="0.23">Yazici</text>
<text x="1191.8" y="2109.9" font-size="27.1" text-anchor="middle" stroke="#000" stroke-width="0.24">2018 [65]</text>
<text x="1389.7" y="2079.3" font-size="25.9" text-anchor="middle" stroke="#000" stroke-width="0.23">Razanskaite</text>
<text x="1389.5" y="2109.9" font-size="27.1" text-anchor="middle" stroke="#000" stroke-width="0.24">2017 [68]</text>
<line x1="131.7" y1="2133.7" x2="542.5" y2="2133.7" stroke="#000" stroke-width="2.5" stroke-linecap="butt"/>
<line x1="569.7" y1="2133.7" x2="1461.3" y2="2133.7" stroke="#000" stroke-width="2.5" stroke-linecap="butt"/>
<text x="355.7" y="2176.7" font-size="26.2" text-anchor="middle" stroke="#000" stroke-width="0.24">Etanercept</text>
<text x="1016" y="2176.7" font-size="26.2" text-anchor="middle" stroke="#000" stroke-width="0.24">Infliximab</text>
</svg>
</body>
</html>
